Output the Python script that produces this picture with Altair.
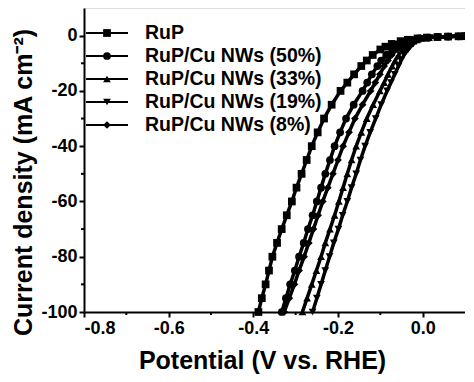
import altair as alt
import pandas as pd

SERIES = ["RuP", "RuP/Cu NWs (50%)", "RuP/Cu NWs (33%)", "RuP/Cu NWs (19%)", "RuP/Cu NWs (8%)"]
SHAPES = ["square", "circle", "triangle-up", "triangle-down", "diamond"]

# current density levels (mA cm-2) shared by all curves
CURRENT = [-100, -95, -90, -85, -80, -75, -70, -65, -60, -55, -50, -45, -40, -35, -30,
           -25, -20, -17, -14, -11, -9, -7, -5, -4, -3, -2, -1.5, -1,
           -0.7, -0.5, -0.35, -0.25, -0.2]

# potentials (V vs RHE) at those current levels
POT_RUP = [-0.388, -0.380, -0.371, -0.363, -0.355, -0.344, -0.333, -0.321, -0.309, -0.298,
           -0.286, -0.274, -0.262, -0.248, -0.233, -0.215, -0.194, -0.178, -0.162, -0.145,
           -0.132, -0.118, -0.100, -0.088, -0.073, -0.052, -0.035, -0.012,
           0.010, 0.035, 0.060, 0.085, 0.100]
POT_50 = [-0.333, -0.323, -0.313, -0.302, -0.292, -0.281, -0.271, -0.260, -0.250, -0.240,
          -0.230, -0.219, -0.208, -0.195, -0.181, -0.163, -0.142, -0.131, -0.120, -0.107,
          -0.098, -0.086, -0.071, -0.062, -0.050, -0.035, -0.024, -0.008,
          0.012, 0.035, 0.060, 0.085, 0.100]
POT_33 = [-0.284, -0.273, -0.262, -0.251, -0.240, -0.230, -0.219, -0.208, -0.198, -0.188,
          -0.178, -0.168, -0.157, -0.145, -0.132, -0.117, -0.101, -0.091, -0.082, -0.072,
          -0.065, -0.057, -0.046, -0.040, -0.032, -0.022, -0.014, -0.002,
          0.015, 0.035, 0.060, 0.085, 0.100]
POT_19 = [-0.260, -0.250, -0.240, -0.230, -0.220, -0.210, -0.199, -0.189, -0.178, -0.168,
          -0.157, -0.147, -0.136, -0.124, -0.111, -0.098, -0.084, -0.075, -0.066, -0.057,
          -0.051, -0.044, -0.034, -0.029, -0.022, -0.014, -0.008, 0.002,
          0.017, 0.037, 0.060, 0.085, 0.100]
POT_8 = [-0.327, -0.315, -0.303, -0.292, -0.280, -0.269, -0.258, -0.247, -0.236, -0.224,
         -0.212, -0.200, -0.188, -0.174, -0.160, -0.142, -0.123, -0.112, -0.101, -0.091,
         -0.082, -0.073, -0.060, -0.052, -0.042, -0.029, -0.019, -0.005,
         0.013, 0.035, 0.060, 0.085, 0.100]

X_TICKS = [-0.8, -0.6, -0.4, -0.2, 0.0]
X_MINOR = [-0.7, -0.5, -0.3, -0.1]
Y_TICKS = [-100, -80, -60, -40, -20, 0]
Y_MINOR = [-90, -70, -50, -30, -10]

POTS = [POT_RUP, POT_50, POT_33, POT_19, POT_8]
rows = []
for name, pots in zip(SERIES, POTS):
    for v, j in zip(pots, CURRENT):
        rows.append({"series": name, "potential": v, "current": j})
df = pd.DataFrame(rows)
legend_df = pd.DataFrame({"series": SERIES, "row": list(range(len(SERIES)))})

FONT = "Liberation Sans"
W, H = 381, 304

xscale = alt.Scale(domain=[-0.8, 0.1], nice=False, zero=False)
yscale = alt.Scale(domain=[-100, 10], nice=False, zero=False)
shape_scale = alt.Scale(domain=SERIES, range=SHAPES)

xaxis = alt.Axis(values=X_TICKS, labelExpr="replace(format(datum.value, '.1f'), '\u2212', '-')",
                 title="Potential (V vs. RHE)", grid=False, tickSize=5, tickWidth=2,
                 domainWidth=2, domainColor="black", tickColor="black",
                 labelFont=FONT, labelFontSize=18, labelFontWeight="bold", labelColor="black",
                 labelPadding=2, titleFont=FONT, titleFontSize=25, titleFontWeight="bold",
                 titleColor="black", titleX=178, titleY=56, titleBaseline="alphabetic",
                 titleAlign="center")
yaxis = alt.Axis(values=Y_TICKS, labelExpr="replace(format(datum.value, 'd'), '\u2212', '-')",
                 title="Current density (mA cm\u207b\u00b2)", grid=False, tickSize=5,
                 tickWidth=2, domainWidth=2, domainColor="black", tickColor="black",
                 labelFont=FONT, labelFontSize=18, labelFontWeight="bold", labelColor="black",
                 labelPadding=2, titleFont=FONT, titleFontSize=25, titleFontWeight="bold",
                 titleColor="black", titleX=-61, titleY=174, titleAngle=-90,
                 titleBaseline="middle", titleAlign="center")

base = alt.Chart(df)
lines = base.mark_line(color="black", strokeWidth=3.5).encode(
    x=alt.X("potential:Q", scale=xscale, axis=xaxis),
    y=alt.Y("current:Q", scale=yscale, axis=yaxis),
    detail="series:N",
    order="current:Q",
)
points = base.mark_point(filled=True, color="black", size=60, opacity=1).encode(
    x=alt.X("potential:Q", scale=xscale),
    y=alt.Y("current:Q", scale=yscale),
    shape=alt.Shape("series:N", scale=shape_scale, legend=None),
)
xminor = alt.Chart(pd.DataFrame({"v": X_MINOR})).mark_rule(color="black", strokeWidth=2).encode(
    x=alt.X("v:Q", scale=xscale), y=alt.value(H), y2=alt.value(H + 3))
yminor = alt.Chart(pd.DataFrame({"v": Y_MINOR})).mark_rule(color="black", strokeWidth=2).encode(
    y=alt.Y("v:Q", scale=yscale), x=alt.value(0), x2=alt.value(-3))

main = alt.layer(lines, points, xminor, yminor)

lbase = alt.Chart(legend_df)
ly = alt.Y("row:O", scale=alt.Scale(type="point", range=[25, 117], padding=0), axis=None)
leg_line = lbase.mark_rule(color="black", strokeWidth=2).encode(
    y=ly, x=alt.value(2), x2=alt.value(44))
leg_pt = lbase.mark_point(filled=True, color="black", size=60, opacity=1).encode(
    y=ly, x=alt.value(23), shape=alt.Shape("series:N", scale=shape_scale, legend=None))
leg_txt = lbase.mark_text(align="left", baseline="middle", font=FONT, fontSize=19.5,
                          fontWeight="bold", color="black").encode(
    y=ly, x=alt.value(61), text="series:N")
legend = alt.layer(leg_line, leg_pt, leg_txt)

chart = alt.layer(main, legend).resolve_scale(y="independent").properties(
    width=W, height=H,
    autosize=alt.AutoSizeParams(type="none"),
    padding={"left": 76, "top": 0, "right": 0, "bottom": 62},
).configure_view(stroke="black", strokeWidth=2).configure(background="white")

chart.save("out.html", embed_options={"renderer": "svg", "actions": False})
